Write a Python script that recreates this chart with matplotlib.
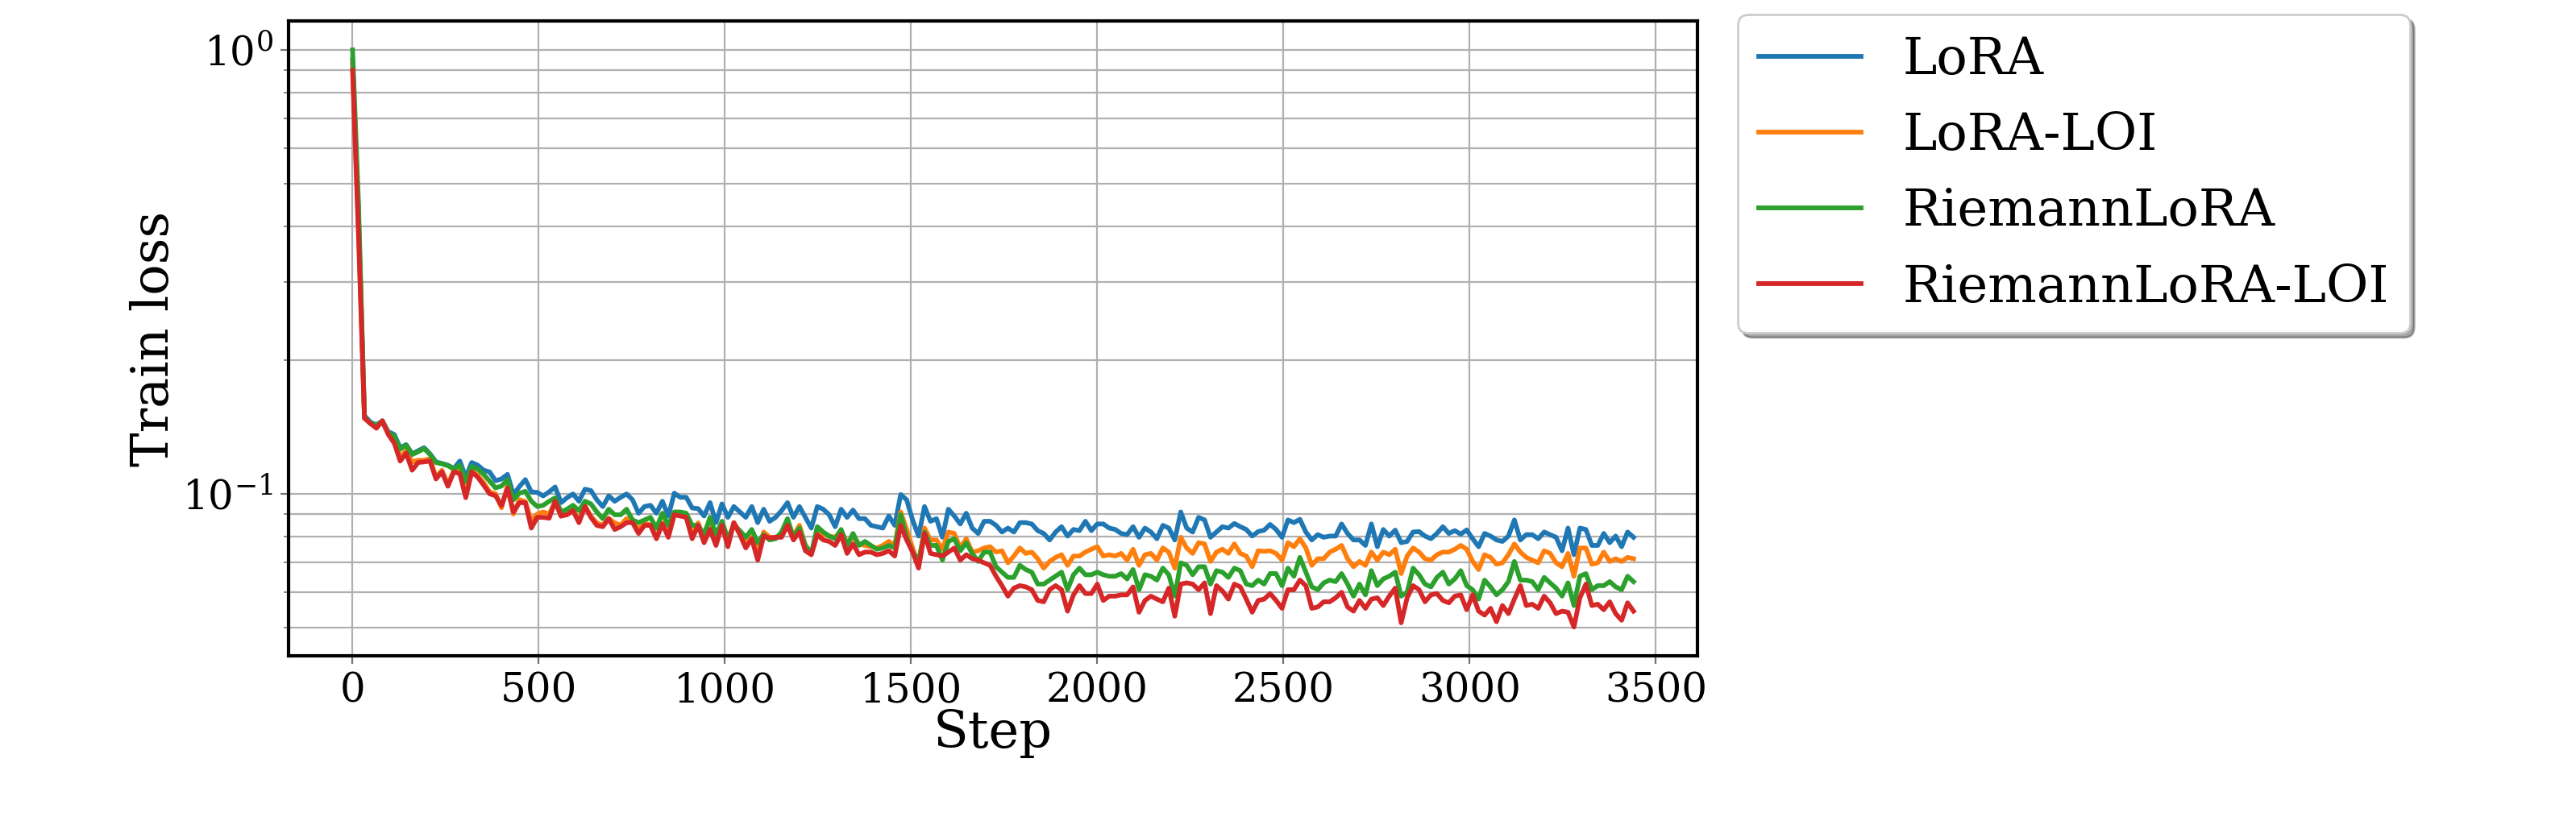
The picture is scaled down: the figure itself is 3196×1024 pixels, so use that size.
import numpy as np
import matplotlib
matplotlib.use("Agg")
import matplotlib.pyplot as plt

plt.rcParams['font.family'] = ['DejaVu Serif']
plt.rcParams['mathtext.fontset'] = 'dejavuserif'

# training step grid (logged every 16 steps)
steps = list(range(0, 3441, 16))

lora = [
    0.95, 0.42, 0.150, 0.145, 0.143, 0.146, 0.138, 0.136,
    0.127, 0.129, 0.123, 0.125, 0.127, 0.123, 0.118, 0.117,
    0.116, 0.114, 0.1185, 0.109, 0.1176, 0.116, 0.113, 0.112,
    0.107, 0.108, 0.1106, 0.0996, 0.1038, 0.1076, 0.101, 0.1007,
    0.0989, 0.101, 0.1036, 0.0955, 0.098, 0.0999, 0.0962, 0.1024,
    0.1017, 0.0969, 0.0936, 0.0989, 0.0962, 0.0982, 0.0999, 0.0969,
    0.0904, 0.0936, 0.0942, 0.0904, 0.0962, 0.0891, 0.1003, 0.0982,
    0.0982, 0.0929, 0.0926, 0.0891, 0.0955, 0.0861, 0.0949, 0.0885,
    0.0936, 0.0910, 0.0885, 0.0936, 0.0861, 0.0923, 0.0867, 0.0885,
    0.0916, 0.0955, 0.0885, 0.0936, 0.0885, 0.0837, 0.0936, 0.0923,
    0.0897, 0.0843, 0.0923, 0.0885, 0.0919, 0.0879, 0.0879, 0.0849,
    0.0843, 0.0837, 0.0891, 0.0849, 0.0996, 0.0969, 0.0873, 0.0803,
    0.0936, 0.0867, 0.0879, 0.0798, 0.0923, 0.0891, 0.0855, 0.0904,
    0.0837, 0.0814, 0.0867, 0.0867, 0.0849, 0.0820, 0.0837, 0.0820,
    0.0861, 0.0861, 0.0855, 0.0826, 0.0814, 0.0787, 0.0820, 0.0843,
    0.0803, 0.0831, 0.0826, 0.0867, 0.0826, 0.0855, 0.0855, 0.0837,
    0.0831, 0.0814, 0.0809, 0.0843, 0.0798, 0.0837, 0.0820, 0.0792,
    0.0849, 0.0837, 0.0787, 0.0910, 0.0837, 0.0820, 0.0885, 0.0873,
    0.0798, 0.0820, 0.0843, 0.0837, 0.0857, 0.0843, 0.0831, 0.0803,
    0.0822, 0.0828, 0.0853, 0.0831, 0.0798, 0.0873, 0.0861, 0.0876,
    0.0820, 0.0787, 0.0809, 0.0798, 0.0803, 0.0803, 0.0855, 0.0814,
    0.0787, 0.0787, 0.0765, 0.0855, 0.0760, 0.0831, 0.0803, 0.0828,
    0.0776, 0.0781, 0.0820, 0.0822, 0.0803, 0.0792, 0.0814, 0.0843,
    0.0814, 0.0826, 0.0811, 0.0829, 0.0792, 0.0760, 0.0814, 0.0803,
    0.0787, 0.0781, 0.0803, 0.0873, 0.0787, 0.0809, 0.0809, 0.0792,
    0.0820, 0.0809, 0.0798, 0.0744, 0.0837, 0.0729, 0.0837, 0.0831,
    0.0765, 0.0765, 0.0814, 0.0776, 0.0803, 0.0760, 0.0820, 0.0798,
]

lora_loi = [
    0.93, 0.40, 0.148, 0.144, 0.141, 0.146, 0.137, 0.132,
    0.121, 0.125, 0.118, 0.119, 0.119, 0.120, 0.109, 0.113,
    0.105, 0.113, 0.112, 0.100, 0.113, 0.110, 0.106, 0.101,
    0.100, 0.093, 0.104, 0.090, 0.097, 0.096, 0.087, 0.090,
    0.091, 0.090, 0.096, 0.089, 0.091, 0.092, 0.087, 0.094,
    0.089, 0.086, 0.085, 0.088, 0.086, 0.085, 0.088, 0.087,
    0.083, 0.086, 0.085, 0.080, 0.086, 0.081, 0.090, 0.090,
    0.089, 0.081, 0.086, 0.079, 0.084, 0.078, 0.085, 0.078,
    0.086, 0.082, 0.077, 0.080, 0.074, 0.082, 0.0798, 0.0798,
    0.0809, 0.0855, 0.0803, 0.0849, 0.0765, 0.0734, 0.0820, 0.0809,
    0.0803, 0.0798, 0.0826, 0.0776, 0.0798, 0.0771, 0.0765, 0.0760,
    0.0755, 0.0765, 0.0781, 0.0765, 0.0910, 0.0831, 0.0755, 0.0694,
    0.0837, 0.0787, 0.0787, 0.0750, 0.0820, 0.0814, 0.0755, 0.0792,
    0.0739, 0.0744, 0.0755, 0.0760, 0.0739, 0.0744, 0.0699, 0.0724,
    0.0755, 0.0734, 0.0739, 0.0714, 0.0680, 0.0704, 0.0719, 0.0729,
    0.0690, 0.0724, 0.0724, 0.0739, 0.0750, 0.0760, 0.0724, 0.0729,
    0.0724, 0.0734, 0.0709, 0.0750, 0.0690, 0.0729, 0.0734, 0.0709,
    0.0755, 0.0739, 0.0680, 0.0798, 0.0755, 0.0734, 0.0776, 0.0771,
    0.0704, 0.0739, 0.0750, 0.0734, 0.0771, 0.0734, 0.0724, 0.0685,
    0.0744, 0.0742, 0.0744, 0.0734, 0.0709, 0.0776, 0.0760, 0.0792,
    0.0755, 0.0690, 0.0714, 0.0714, 0.0739, 0.0750, 0.0765, 0.0714,
    0.0685, 0.0704, 0.0690, 0.0739, 0.0709, 0.0739, 0.0729, 0.0750,
    0.0661, 0.0724, 0.0755, 0.0739, 0.0714, 0.0709, 0.0729, 0.0739,
    0.0739, 0.0750, 0.0765, 0.0750, 0.0704, 0.0675, 0.0729, 0.0719,
    0.0694, 0.0699, 0.0729, 0.0771, 0.0739, 0.0719, 0.0709, 0.0699,
    0.0744, 0.0734, 0.0699, 0.0685, 0.0734, 0.0652, 0.0755, 0.0755,
    0.0694, 0.0699, 0.0739, 0.0704, 0.0714, 0.0704, 0.0719, 0.0714,
]

riemann_lora = [
    1.00, 0.45, 0.149, 0.144, 0.143, 0.145, 0.137, 0.135,
    0.126, 0.1287, 0.1226, 0.1243, 0.1265, 0.1226, 0.1176, 0.1168,
    0.1157, 0.1137, 0.1160, 0.1065, 0.1152, 0.1137, 0.1106, 0.1068,
    0.1031, 0.1041, 0.1076, 0.0969, 0.1003, 0.1013, 0.0962, 0.0936,
    0.0942, 0.0962, 0.0979, 0.0910, 0.0923, 0.0942, 0.0916, 0.0962,
    0.0949, 0.0910, 0.0879, 0.0923, 0.0897, 0.0897, 0.0923, 0.0873,
    0.0861, 0.0873, 0.0885, 0.0837, 0.0904, 0.0849, 0.0910, 0.0910,
    0.0904, 0.0849, 0.0849, 0.0809, 0.0885, 0.0809, 0.0867, 0.0792,
    0.0849, 0.0826, 0.0798, 0.0831, 0.0776, 0.0809, 0.0787, 0.0792,
    0.0820, 0.0879, 0.0798, 0.0837, 0.0765, 0.0734, 0.0843, 0.0820,
    0.0803, 0.0792, 0.0831, 0.0765, 0.0814, 0.0765, 0.0781, 0.0765,
    0.0750, 0.0755, 0.0765, 0.0755, 0.0897, 0.0798, 0.0739, 0.0704,
    0.0820, 0.0765, 0.0765, 0.0709, 0.0781, 0.0792, 0.0744, 0.0776,
    0.0734, 0.0704, 0.0739, 0.0739, 0.0685, 0.0666, 0.0648, 0.0648,
    0.0690, 0.0675, 0.0666, 0.0626, 0.0626, 0.0639, 0.0652, 0.0666,
    0.0608, 0.0657, 0.0680, 0.0657, 0.0657, 0.0666, 0.0657, 0.0652,
    0.0652, 0.0661, 0.0643, 0.0675, 0.0608, 0.0657, 0.0652, 0.0639,
    0.0680, 0.0657, 0.0588, 0.0699, 0.0690, 0.0657, 0.0685, 0.0685,
    0.0626, 0.0671, 0.0666, 0.0648, 0.0680, 0.0671, 0.0626, 0.0621,
    0.0639, 0.0626, 0.0661, 0.0661, 0.0621, 0.0680, 0.0652, 0.0719,
    0.0666, 0.0617, 0.0608, 0.0630, 0.0639, 0.0634, 0.0661, 0.0626,
    0.0588, 0.0626, 0.0592, 0.0671, 0.0621, 0.0643, 0.0652, 0.0666,
    0.0588, 0.0600, 0.0680, 0.0657, 0.0626, 0.0617, 0.0648, 0.0666,
    0.0626, 0.0643, 0.0671, 0.0621, 0.0608, 0.0579, 0.0639, 0.0617,
    0.0592, 0.0608, 0.0634, 0.0704, 0.0639, 0.0639, 0.0634, 0.0608,
    0.0648, 0.0630, 0.0613, 0.0588, 0.0630, 0.0560, 0.0652, 0.0661,
    0.0608, 0.0621, 0.0621, 0.0634, 0.0617, 0.0608, 0.0652, 0.0634,
]

riemann_lora_loi = [
    0.90, 0.38, 0.148, 0.144, 0.1405, 0.146, 0.136, 0.130,
    0.1185, 0.1235, 0.113, 0.1176, 0.118, 0.1185, 0.108, 0.112,
    0.104, 0.112, 0.111, 0.098, 0.112, 0.109, 0.1046, 0.100,
    0.099, 0.094, 0.103, 0.091, 0.0955, 0.0955, 0.0837, 0.0885,
    0.0885, 0.0881, 0.0962, 0.0891, 0.0897, 0.0916, 0.0861, 0.0936,
    0.0885, 0.0849, 0.0843, 0.0879, 0.0831, 0.0843, 0.0861, 0.0861,
    0.0814, 0.0849, 0.0849, 0.0792, 0.0855, 0.0798, 0.0897, 0.0891,
    0.0885, 0.0792, 0.0849, 0.0776, 0.0831, 0.0765, 0.0849, 0.0760,
    0.0861, 0.0809, 0.0755, 0.0792, 0.0709, 0.0803, 0.0795, 0.0798,
    0.0798, 0.0849, 0.0787, 0.0820, 0.0744, 0.0729, 0.0809, 0.0787,
    0.0781, 0.0765, 0.0809, 0.0734, 0.0771, 0.0729, 0.0739, 0.0739,
    0.0729, 0.0734, 0.0744, 0.0724, 0.0849, 0.0787, 0.0739, 0.0680,
    0.0814, 0.0734, 0.0729, 0.0724, 0.0739, 0.0755, 0.0709, 0.0729,
    0.0714, 0.0709, 0.0699, 0.0690, 0.0652, 0.0621, 0.0588, 0.0613,
    0.0621, 0.0617, 0.0608, 0.0575, 0.0571, 0.0608, 0.0621, 0.0608,
    0.0544, 0.0592, 0.0621, 0.0596, 0.0596, 0.0626, 0.0575, 0.0588,
    0.0588, 0.0592, 0.0592, 0.0617, 0.0541, 0.0575, 0.0588, 0.0579,
    0.0571, 0.0613, 0.0530, 0.0626, 0.0630, 0.0626, 0.0608, 0.0630,
    0.0537, 0.0621, 0.0604, 0.0579, 0.0626, 0.0617, 0.0579, 0.0541,
    0.0575, 0.0579, 0.0596, 0.0575, 0.0552, 0.0608, 0.0608, 0.0639,
    0.0621, 0.0552, 0.0556, 0.0571, 0.0571, 0.0583, 0.0600, 0.0556,
    0.0544, 0.0575, 0.0552, 0.0579, 0.0583, 0.0560, 0.0588, 0.0613,
    0.0512, 0.0583, 0.0621, 0.0608, 0.0571, 0.0592, 0.0596, 0.0575,
    0.0568, 0.0588, 0.0592, 0.0548, 0.0592, 0.0544, 0.0533, 0.0552,
    0.0515, 0.0560, 0.0537, 0.0579, 0.0621, 0.0560, 0.0564, 0.0552,
    0.0588, 0.0568, 0.0537, 0.0544, 0.0541, 0.0501, 0.0583, 0.0626,
    0.0560, 0.0564, 0.0548, 0.0571, 0.0537, 0.0519, 0.0568, 0.0544,
]

labels = ["LoRA", "LoRA-LOI", "RiemannLoRA", "RiemannLoRA-LOI"]
colors = ["#1f77b4", "#ff7f0e", "#2ca02c", "#d62728"]
series = [lora, lora_loi, riemann_lora, riemann_lora_loi]

n = min([len(steps)] + [len(s) for s in series])

fig = plt.figure(figsize=(15.98, 5.12), dpi=200)
ax = fig.add_axes([0.112, 0.205, 0.547, 0.7695])

for vals, lab, col in zip(series, labels, colors):
    ax.plot(steps[:n], vals[:n], color=col, lw=2.1, label=lab)

ax.set_yscale('log')
ax.set_xticks([0, 500, 1000, 1500, 2000, 2500, 3000, 3500])
ax.grid(True, which='major', axis='both', color='#b0b0b0', lw=0.8)
ax.grid(True, which='minor', axis='y', color='#b0b0b0', lw=0.8)

for sp in ax.spines.values():
    sp.set_linewidth(1.5)
    sp.set_color('black')

ax.tick_params(axis='both', which='major', labelsize=18, color='0.45', length=3.5, width=0.8)
ax.tick_params(axis='both', which='minor', color='0.45', length=2, width=0.6)
ax.tick_params(axis='y', which='minor', labelleft=False)

ax.set_xlabel("Step", fontsize=23, labelpad=-1)
ax.set_ylabel("Train loss", fontsize=23, labelpad=1.5)

leg = ax.legend(loc='upper left', bbox_to_anchor=(1.0286, 1.010), borderaxespad=0,
                fontsize=23, shadow=True, fancybox=True, labelspacing=0.52)

fig.savefig("out.png", dpi=200)
